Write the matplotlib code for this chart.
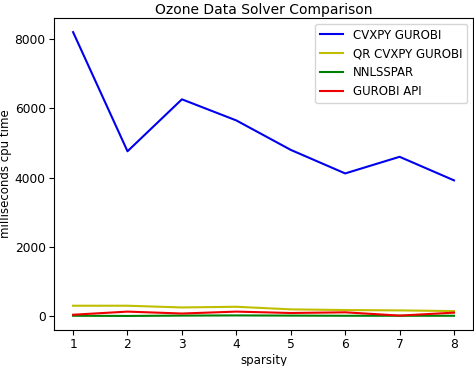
import matplotlib
matplotlib.use("Agg")
import matplotlib.pyplot as plt

sparsity = [1, 2, 3, 4, 5, 6, 7, 8]
cvxpy_gurobi = [8200, 4760, 6260, 5650, 4800, 4120, 4600, 3920]
qr_cvxpy_gurobi = [300, 300, 250, 270, 195, 175, 165, 145]
nnlsspar = [10, 5, 15, 20, 15, 10, 10, 10]
gurobi_api = [40, 130, 75, 130, 90, 110, 15, 100]

fig = plt.figure(figsize=(4.74, 3.66), dpi=100)
ax = fig.add_axes([0.114, 0.098, 0.884, 0.853])
ax.plot(sparsity, cvxpy_gurobi, color="#0000ee", lw=1.5, label="CVXPY GUROBI")
ax.plot(sparsity, qr_cvxpy_gurobi, color="#bfbf00", lw=1.5, label="QR CVXPY GUROBI")
ax.plot(sparsity, nnlsspar, color="#008000", lw=1.5, label="NNLSSPAR")
ax.plot(sparsity, gurobi_api, color="#ee0000", lw=1.5, label="GUROBI API")
ax.set_title("Ozone Data Solver Comparison", fontsize=10, pad=3)
ax.set_xlabel("sparsity", fontsize=8.5, labelpad=1.5)
ax.set_ylabel("milliseconds cpu time", fontsize=8.5, labelpad=1.5)
ax.tick_params(labelsize=8.8, pad=2.5)
ax.set_yticks([0, 2000, 4000, 6000, 8000])
ax.legend(loc="upper right", fontsize=8.5)
fig.savefig("out.png", dpi=100)
